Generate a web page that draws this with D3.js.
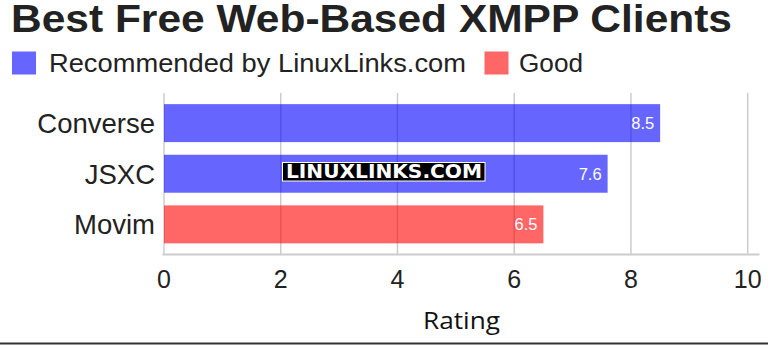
<!DOCTYPE html>
<html>
<head>
<meta charset="utf-8">
<script src="https://cdn.jsdelivr.net/npm/d3@7"></script>
<style>
  html, body { margin: 0; padding: 0; background: #fff; }
  svg { display: block; }
</style>
</head>
<body>
<div id="chart"></div>
<script>
const categories = ["Converse", "JSXC", "Movim"];
const ratings = [8.5, 7.6, 6.5];
const groups = ["Recommended", "Recommended", "Good"];
const legendLabels = ["Recommended by LinuxLinks.com", "Good"];
const tickValues = [0, 2, 4, 6, 8, 10];

const width = 768;
const height = 345;

const svg = d3
  .select("#chart")
  .append("svg")
  .attr("width", width)
  .attr("height", height);

svg.append("rect").attr("width", width).attr("height", height).attr("fill", "#fff");

const xScale = d3.scaleLinear().domain([0, 10]).range([164, 747.7]);
const yScale = d3
  .scaleBand()
  .domain(categories)
  .range([93, 254.5])
  .paddingInner(0.25)
  .paddingOuter(0.22);
const colorScale = d3
  .scaleOrdinal()
  .domain(["Recommended", "Good"])
  .range(["rgb(0,0,255)", "rgb(255,0,0)"]);

// title
svg
  .append("text")
  .attr("x", 11)
  .attr("y", 31.5)
  .attr("font-family", "Liberation Sans, Arial, sans-serif")
  .attr("font-weight", "bold")
  .attr("font-size", 39)
  .attr("fill", "#222")
  .attr("textLength", 721)
  .attr("lengthAdjust", "spacingAndGlyphs")
  .text("Best Free Web-Based XMPP Clients");

// legend
const legendItems = [
  { label: legendLabels[0], key: "Recommended", x: 12, tx: 49, tw: 417 },
  { label: legendLabels[1], key: "Good", x: 484.5, tx: 519, tw: 64 },
];
const legend = svg.append("g");
legend
  .selectAll("rect")
  .data(legendItems)
  .enter()
  .append("rect")
  .attr("x", (d) => d.x)
  .attr("y", 51.5)
  .attr("width", 24)
  .attr("height", 23)
  .attr("fill", (d) => colorScale(d.key))
  .attr("fill-opacity", 0.6);
legend
  .selectAll("text")
  .data(legendItems)
  .enter()
  .append("text")
  .attr("x", (d) => d.tx)
  .attr("y", 72)
  .attr("font-family", "Liberation Sans, Arial, sans-serif")
  .attr("font-size", 25)
  .attr("fill", "#222")
  .attr("textLength", (d) => d.tw)
  .attr("lengthAdjust", "spacingAndGlyphs")
  .text((d) => d.label);

// grid
svg
  .append("g")
  .selectAll("line")
  .data(tickValues)
  .enter()
  .append("line")
  .attr("x1", (d) => xScale(d))
  .attr("x2", (d) => xScale(d))
  .attr("y1", 93)
  .attr("y2", 254.5)
  .attr("stroke", "#ccc")
  .attr("stroke-width", 1.5);

svg
  .append("line")
  .attr("x1", 162.5)
  .attr("x2", 759.5)
  .attr("y1", 254.5)
  .attr("y2", 254.5)
  .attr("stroke", "#ccc")
  .attr("stroke-width", 2);

// bars
svg
  .append("g")
  .selectAll("rect")
  .data(categories)
  .enter()
  .append("rect")
  .attr("x", xScale(0))
  .attr("y", (d) => yScale(d))
  .attr("width", (d, i) => xScale(ratings[i]) - xScale(0))
  .attr("height", yScale.bandwidth())
  .attr("fill", (d, i) => colorScale(groups[i]))
  .attr("fill-opacity", 0.6);

// value labels
svg
  .append("g")
  .selectAll("text")
  .data(categories)
  .enter()
  .append("text")
  .attr("x", (d, i) => xScale(ratings[i]) - 6)
  .attr("y", (d) => yScale(d) + yScale.bandwidth() / 2)
  .attr("dy", "0.35em")
  .attr("text-anchor", "end")
  .attr("font-family", "Liberation Sans, Arial, sans-serif")
  .attr("font-size", 16.5)
  .attr("fill", "#fff")
  .text((d, i) => ratings[i]);

// category labels
svg
  .append("g")
  .selectAll("text")
  .data(categories)
  .enter()
  .append("text")
  .attr("x", 155)
  .attr("y", (d) => yScale(d) + yScale.bandwidth() / 2)
  .attr("dy", "0.36em")
  .attr("text-anchor", "end")
  .attr("font-family", "Liberation Sans, Arial, sans-serif")
  .attr("font-size", 27.5)
  .attr("fill", "#222")
  .text((d) => d);

// x tick labels
svg
  .append("g")
  .selectAll("text")
  .data(tickValues)
  .enter()
  .append("text")
  .attr("x", (d) => xScale(d))
  .attr("y", 288)
  .attr("text-anchor", "middle")
  .attr("font-family", "Liberation Sans, Arial, sans-serif")
  .attr("font-size", 25)
  .attr("fill", "#222")
  .text((d) => d);

svg
  .append("text")
  .attr("x", 461.5)
  .attr("y", 329)
  .attr("text-anchor", "middle")
  .attr("font-family", "Open Sans, Noto Sans, sans-serif")
  .attr("font-size", 24)
  .attr("fill", "#111")
  .attr("textLength", 77)
  .attr("lengthAdjust", "spacingAndGlyphs")
  .text("Rating");

// watermark
const wm = svg.append("g");
wm.append("rect")
  .attr("x", 282.5)
  .attr("y", 162.5)
  .attr("width", 202.5)
  .attr("height", 18.5)
  .attr("fill", "#000")
  .attr("stroke", "#fff")
  .attr("stroke-width", 1);
wm.append("text")
  .attr("x", 384)
  .attr("y", 178.3)
  .attr("text-anchor", "middle")
  .attr("font-family", "DejaVu Sans, Verdana, sans-serif")
  .attr("font-weight", "bold")
  .attr("font-size", 19)
  .attr("fill", "#fff")
  .attr("textLength", 196)
  .attr("lengthAdjust", "spacingAndGlyphs")
  .text("LINUXLINKS.COM");

// bottom border
svg
  .append("line")
  .attr("x1", 0)
  .attr("x2", width)
  .attr("y1", 343.5)
  .attr("y2", 343.5)
  .attr("stroke", "#333")
  .attr("stroke-width", 2);
</script>
</body>
</html>
